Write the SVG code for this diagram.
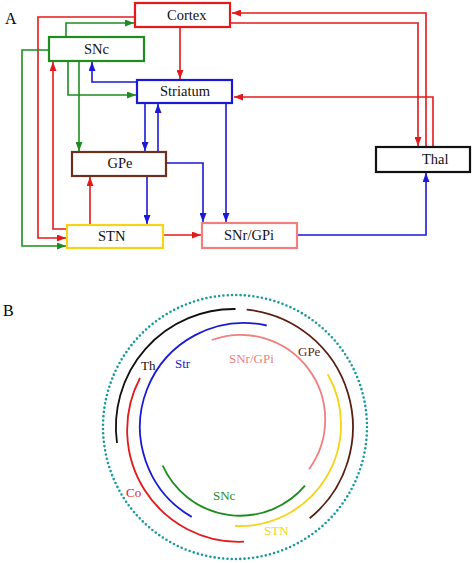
<svg xmlns="http://www.w3.org/2000/svg" width="474" height="563" viewBox="0 0 474 563">
<style>
  text { font-family: "Liberation Serif", "Times New Roman", serif; }
  .nt { font-size: 14.5px; fill: #111; }
  .box { fill: #fff; stroke-width: 2.2; }
  .c { fill: none; stroke-width: 1.6; }
  .r { stroke: #e31a1c; marker-end: url(#ar); }
  .g { stroke: #1e8c1e; marker-end: url(#ag); }
  .b { stroke: #1a1ad6; marker-end: url(#ab); }
  .arc { fill: none; stroke-width: 1.8; }
  .bl { font-size: 13px; }
</style>
<defs>
  <marker id="ar" markerUnits="userSpaceOnUse" markerWidth="9" markerHeight="7" refX="9" refY="3.5" orient="auto"><path d="M0,0 L9,3.5 L0,7 z" fill="#e31a1c"/></marker>
  <marker id="ag" markerUnits="userSpaceOnUse" markerWidth="9" markerHeight="7" refX="9" refY="3.5" orient="auto"><path d="M0,0 L9,3.5 L0,7 z" fill="#1e8c1e"/></marker>
  <marker id="ab" markerUnits="userSpaceOnUse" markerWidth="9" markerHeight="7" refX="9" refY="3.5" orient="auto"><path d="M0,0 L9,3.5 L0,7 z" fill="#1a1ad6"/></marker>
</defs>
<rect width="474" height="563" fill="#fff"/>
<text x="5" y="24" font-size="16">A</text>
<text x="3" y="316" font-size="16">B</text>

<g id="connectors">
  <!-- red -->
  <path class="c r" d="M180 27 V79"/>
  <path class="c r" d="M426 147 V13 H232"/>
  <path class="c r" d="M230 23 H418 V146"/>
  <path class="c r" d="M433 147 V97 H234"/>
  <path class="c r" d="M135 17 H38 V238 H66"/>
  <path class="c r" d="M67 229 H53 V62"/>
  <path class="c r" d="M90 225 V177"/>
  <path class="c r" d="M163 235 H201"/>
  <!-- green -->
  <path class="c g" d="M66 37 V23 H134"/>
  <path class="c g" d="M49 50 H22 V246 H66"/>
  <path class="c g" d="M68 61 V95 H136"/>
  <path class="c g" d="M79 61 V151"/>
  <!-- blue -->
  <path class="c b" d="M137 82 H92 V62"/>
  <path class="c b" d="M145 103 V151"/>
  <path class="c b" d="M158 152 V104"/>
  <path class="c b" d="M226 103 V222"/>
  <path class="c b" d="M147 176 V224"/>
  <path class="c b" d="M166 163 H203 V222"/>
  <path class="c b" d="M297 235 H426 V173"/>
</g>

<g id="cortex"><rect class="box" x="135" y="3" width="95" height="24" stroke="#e31a1c"/><text class="nt" x="167" y="20">Cortex</text></g>
<g id="snc"><rect class="box" x="49" y="37" width="95" height="24" stroke="#1e8c1e"/><text class="nt" x="96.5" y="54" text-anchor="middle">SNc</text></g>
<g id="striatum"><rect class="box" x="137" y="80" width="95" height="23" stroke="#1a1ad6"/><text class="nt" x="185" y="96" text-anchor="middle">Striatum</text></g>
<g id="gpe"><rect class="box" x="72" y="152" width="94" height="24" stroke="#6b3020"/><text class="nt" x="120" y="168" text-anchor="middle">GPe</text></g>
<g id="stn"><rect class="box" x="67" y="225" width="96" height="23" stroke="#f5d316"/><text class="nt" x="98" y="241">STN</text></g>
<g id="snr-gpi"><rect class="box" x="202" y="223" width="95" height="25" stroke="#f08080"/><text class="nt" x="249" y="240" text-anchor="middle">SNr/GPi</text></g>
<g id="thal"><rect class="box" x="376" y="147" width="94" height="25" stroke="#111"/><text class="nt" x="422" y="164">Thal</text></g>

<g id="panel-b">
  <circle cx="235" cy="427" r="132" fill="none" stroke="#1a9a9a" stroke-width="2.6" stroke-linecap="round" stroke-dasharray="0 4.297"/>
  <path class="arc" stroke="#111" d="M117 443 A118 118 0 0 1 235.5 309"/>
  <path class="arc" stroke="#5a1f10" d="M246.7 309.6 A118 118 0 0 1 309.7 518.3"/>
  <path class="arc" stroke="#e31a1c" d="M140 378 A111.8 111.8 0 0 0 244 541.7"/>
  <path class="arc" stroke="#1a1ad6" d="M266.7 325.5 A104 104 0 0 0 191.7 516.9"/>
  <path class="arc" stroke="#f08080" d="M211.7 340 A84.6 84.6 0 0 1 309 469.3"/>
  <path class="arc" stroke="#f5d316" d="M327.7 374.3 A101.5 101.5 0 0 1 235.1 526"/>
  <path class="arc" stroke="#1e8c1e" d="M162.7 465.7 A85 85 0 0 0 305 485.7"/>
  <text class="bl" x="141" y="370" fill="#111">Th</text>
  <text class="bl" x="175" y="368" fill="#1a1ad6">Str</text>
  <text class="bl" x="229" y="363" fill="#f08080">SNr/GPi</text>
  <text class="bl" x="298" y="356" fill="#5a1f10">GPe</text>
  <text class="bl" x="126" y="497" fill="#e31a1c">Co</text>
  <text class="bl" x="213" y="500" fill="#1e8c1e">SNc</text>
  <text class="bl" x="264" y="535" fill="#f5d316">STN</text>
</g>
</svg>
